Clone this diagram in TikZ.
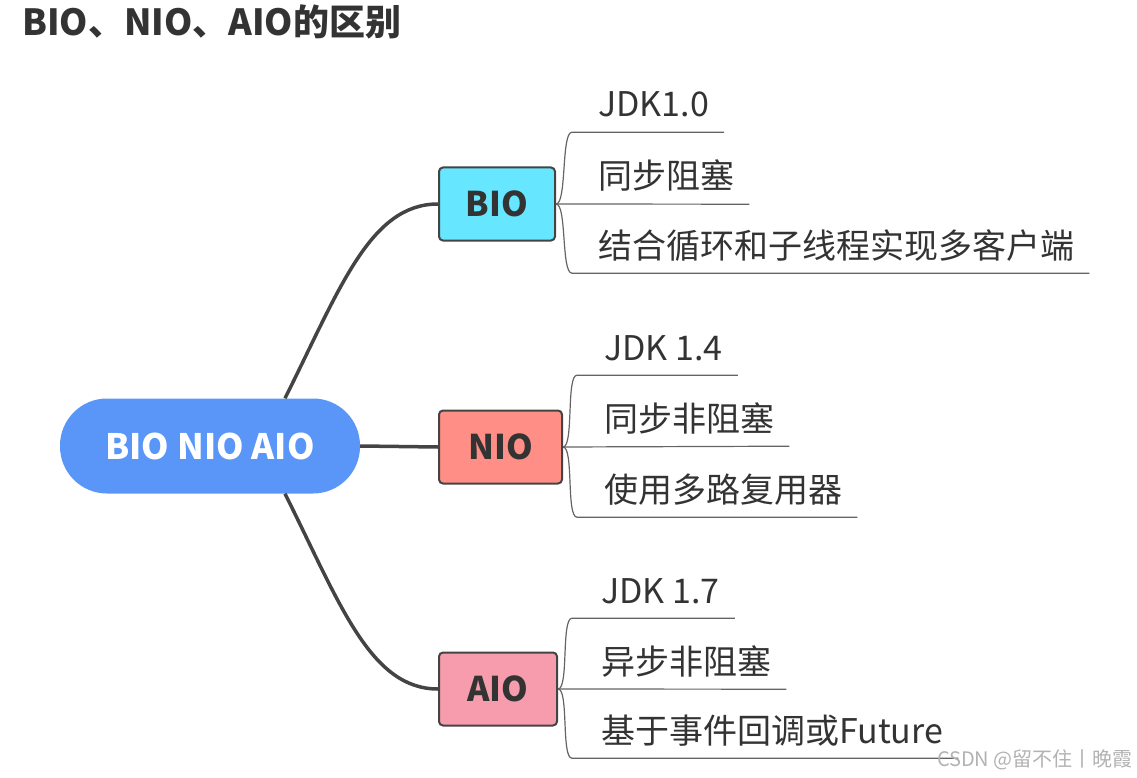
\documentclass[tikz,border=0pt]{standalone}
\usepackage{fontspec}
\setmainfont{Noto Sans CJK SC}
\usetikzlibrary{positioning}
\definecolor{rootblue}{RGB}{90,150,248}
\definecolor{biocyan}{RGB}{102,230,255}
\definecolor{niored}{RGB}{255,143,134}
\definecolor{aiopink}{RGB}{247,156,173}
\definecolor{darktext}{RGB}{51,51,51}
\definecolor{linegray}{RGB}{68,68,68}
\definecolor{subgray}{RGB}{100,100,100}

\begin{document}
\begin{tikzpicture}[x=1pt,y=-1pt,
    topic/.style={draw=linegray,line width=2pt,rounded corners=4pt,minimum height=73pt,
      anchor=west,text=darktext,font=\fontsize{34}{40}\selectfont\bfseries},
    leaf/.style={anchor=base west,inner xsep=0pt,inner ysep=0pt,text depth=15pt,
      text=darktext,font=\fontsize{34}{40}\selectfont},
    mainline/.style={linegray,line width=3.5pt},
    subline/.style={subgray,line width=1.2pt}]
  \useasboundingbox (0,0) rectangle (1137,778);
  % title
  \node[anchor=west,inner sep=0pt,text=darktext,font=\fontsize{36}{42}\selectfont\bfseries] (title) at (22,22) {BIO、NIO、AIO的区别};
  % centre and the three topics
  \node[fill=rootblue,rounded corners=47pt,minimum width=300pt,minimum height=95pt,
    text=white,font=\fontsize{35}{40}\selectfont\bfseries] (root) at (210,446) {BIO NIO AIO};
  \node[topic,fill=biocyan,minimum width=116pt] (bio) at (438,204) {BIO};
  \node[topic,fill=niored,minimum width=123pt] (nio) at (438,447) {NIO};
  \node[topic,fill=aiopink,minimum width=118pt] (aio) at (438,689) {AIO};
  \draw[mainline] ([xshift=75pt]root.north) .. controls +(55,-110) and +(-68,0) .. (bio.west);
  \draw[mainline] (root.east) -- (nio.west);
  \draw[mainline] ([xshift=75pt]root.south) .. controls +(55,110) and +(-68,0) .. (aio.west);
  % BIO leaves
  \node[leaf] (b1) at (598,117) {JDK1.0};
  \node[leaf] (b2) at (598,189) {同步阻塞};
  \node[leaf] (b3) at (598,258) {结合循环和子线程实现多客户端};
  \draw[subline] (bio.east) .. controls +(11,0) and +(-11,0) .. ([xshift=-26pt]b1.south west) -- ([xshift=15pt]b1.south east);
  \draw[subline] (bio.east) -- ([xshift=15pt]b2.south east);
  \draw[subline] (bio.east) .. controls +(11,0) and +(-11,0) .. ([xshift=-26pt]b3.south west) -- ([xshift=15pt]b3.south east);
  % NIO leaves
  \node[leaf] (n1) at (604,360) {JDK 1.4};
  \node[leaf] (n2) at (604,431) {同步非阻塞};
  \node[leaf] (n3) at (604,502) {使用多路复用器};
  \draw[subline] (nio.east) .. controls +(11,0) and +(-11,0) .. ([xshift=-27pt]n1.south west) -- ([xshift=15pt]n1.south east);
  \draw[subline] (nio.east) -- ([xshift=15pt]n2.south east);
  \draw[subline] (nio.east) .. controls +(11,0) and +(-11,0) .. ([xshift=-27pt]n3.south west) -- ([xshift=15pt]n3.south east);
  % AIO leaves
  \node[leaf] (a1) at (601,603) {JDK 1.7};
  \node[leaf] (a2) at (601,674) {异步非阻塞};
  \node[leaf] (a3) at (601,743) {基于事件回调或Future};
  \draw[subline] (aio.east) .. controls +(11,0) and +(-11,0) .. ([xshift=-29pt]a1.south west) -- ([xshift=15pt]a1.south east);
  \draw[subline] (aio.east) -- ([xshift=15pt]a2.south east);
  \draw[subline] (aio.east) .. controls +(11,0) and +(-11,0) .. ([xshift=-29pt]a3.south west) -- ([xshift=15pt]a3.south east);
  % watermark
  \node[anchor=east,inner sep=0pt,text=black!30,font=\fontsize{20}{22}\selectfont] (mark) at (1133,760) {CSDN @留不住丨晚霞};
\end{tikzpicture}
\end{document}
